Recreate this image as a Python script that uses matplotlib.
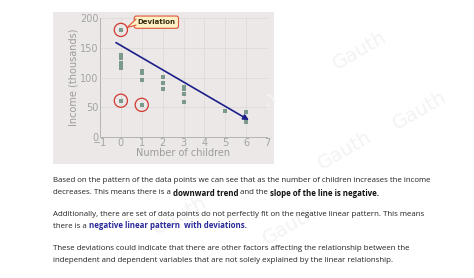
import matplotlib
matplotlib.use("Agg")
import matplotlib.pyplot as plt
from matplotlib.patches import Rectangle, Polygon

# ---- data ----
children = [0, 0, 0, 0, 0, 0, 0, 1, 1, 1, 1, 2, 2, 2, 3, 3, 3, 3, 5, 6, 6]
income = [180, 138, 133, 125, 121, 116, 61, 111, 107, 96, 54, 101, 90, 81, 84, 80, 72, 59, 44, 42, 26]
dev_x = [0, 0, 1]
dev_y = [180, 61, 54]
trend_start = (-0.35, 161)
trend_end = (6.25, 26)
x_ticks = [-1, 0, 1, 2, 3, 4, 5, 6, 7]
y_ticks = [0, 50, 100, 150, 200]

paragraphs = [
    [[("Based on the pattern of the data points we can see that as the number of children increases the income", "normal", "#222222")],
     [("decreases. This means there is a ", "normal", "#222222"), ("downward trend", "bold", "#111111"),
      (" and the ", "normal", "#222222"), ("slope of the line is negative.", "bold", "#111111")]],
    [[("Additionally, there are set of data points do not perfectly fit on the negative linear pattern. This means", "normal", "#222222")],
     [("there is a ", "normal", "#222222"), ("negative linear pattern  with deviations.", "bold", "#2b2a9a")]],
    [[("These deviations could indicate that there are other factors affecting the relationship between the", "normal", "#222222")],
     [("independent and dependent variables that are not solely explained by the linear relationship.", "normal", "#222222")]],
]
line_y = [181, 193, 214, 226, 248, 260]

W, H = 474, 278
fig = plt.figure(figsize=(W / 100, H / 100), dpi=100)
fig.patch.set_facecolor("white")

# screenshot panel
fig.patches.append(Rectangle((53 / W, 1 - 164 / H), (274 - 53) / W, (164 - 12) / H,
                             transform=fig.transFigure, facecolor="#ebe8e7", edgecolor="none", zorder=-5))

ax = fig.add_axes([100 / W, 1 - 137 / H, (267 - 100) / W, (137 - 18) / H])
ax.set_zorder(1)
ax.set_facecolor("#ebe8e7")
ax.set_xlim(-1, 7)
ax.set_ylim(0, 200)
ax.set_xticks(x_ticks)
ax.set_xticklabels(["\u22121" if t < 0 else str(t) for t in x_ticks])
ax.set_yticks(y_ticks)
ax.tick_params(length=0, labelsize=7, colors="#a3a3a3", pad=1)
ax.grid(True, color="#dddad9", lw=0.6)
ax.set_axisbelow(True)
for s in ["top", "right"]:
    ax.spines[s].set_visible(False)
for s in ["left", "bottom"]:
    ax.spines[s].set_color("#b5b3b2")
    ax.spines[s].set_linewidth(0.7)
ax.set_xlabel("Number of children", fontsize=7, color="#9c9c9c", labelpad=0)
ax.set_ylabel("Income (thousands)", fontsize=7, color="#9c9c9c", labelpad=1)

ax.scatter(children, income, s=7, marker="s", color="#7b9a8c", linewidths=0, zorder=3)
ax.scatter(dev_x, dev_y, s=90, facecolors="none", edgecolors="#d23a32", linewidths=0.9, zorder=4)
ax.annotate("", xy=trend_end, xytext=trend_start,
            arrowprops=dict(arrowstyle="-|>", color="#1c1f8a", lw=1.2, mutation_scale=8), zorder=5)

# callout
ax.text(1.7, 193, "Deviation", fontsize=5, fontweight="bold", color="#3a2a10", ha="center", va="center",
        bbox=dict(boxstyle="round,pad=0.45,rounding_size=0.3", fc="#fdf2c6", ec="#e0553a", lw=0.8), zorder=6)
ax.add_patch(Polygon([(0.72, 188), (0.72, 198), (0.3, 184)], closed=True, fc="#fdf2c6", ec="none",
                     zorder=7, clip_on=False))
ax.plot([0.72, 0.3, 0.72], [198, 184, 188], color="#e0553a", lw=0.8, zorder=7, clip_on=False)

# watermarks
for (wx, wy) in [(360, 50), (150, 120), (250, 110), (345, 150), (180, 215), (290, 225), (420, 110)]:
    fig.text(wx / W, 1 - wy / H, "Gauth", fontsize=14, color="#f3f3f3", rotation=30,
             ha="center", va="center", zorder=-4)

# paragraph text
fig.canvas.draw()
renderer = fig.canvas.get_renderer()
li = 0
for para in paragraphs:
    for line in para:
        x = 53
        for txt, weight, col in line:
            t = fig.text(x / W, 1 - line_y[li] / H, txt, fontsize=5.7, fontweight=weight, color=col,
                         family="Open Sans", va="center", ha="left")
            bb = t.get_window_extent(renderer)
            x += bb.width
        li += 1

fig.savefig("out.png", dpi=100, facecolor="white")
